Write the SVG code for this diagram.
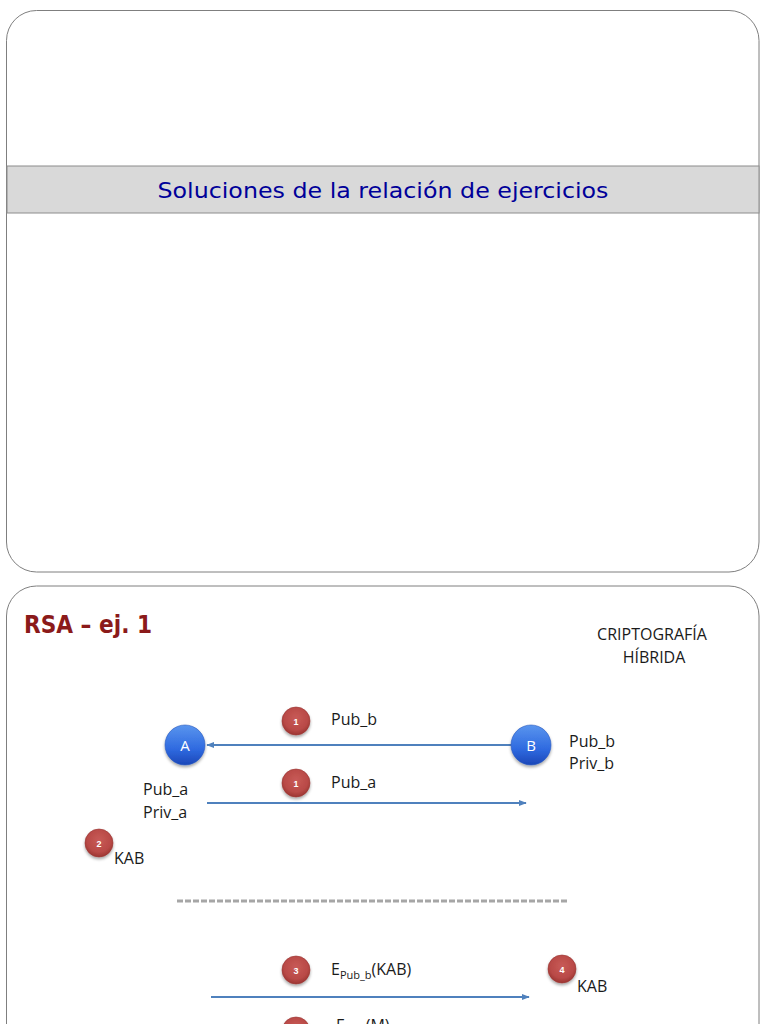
<svg xmlns="http://www.w3.org/2000/svg" width="768" height="1024" viewBox="0 0 768 1024">
  <defs>
    <style>
      .slide { fill: #ffffff; stroke: #7f7f7f; stroke-width: 1; }
      .lbl { font-family: "Open Sans", "Liberation Sans", sans-serif; font-size: 16px; fill: #1a1a1a; }
      .num { font-family: "Liberation Sans", sans-serif; font-size: 9px; font-weight: bold; fill: #ffffff; text-anchor: middle; }
      .conn { stroke: #4f81bd; stroke-width: 2; fill: none; }
      .badge { fill: url(#redGrad); stroke: #9a3633; stroke-width: 0.6; filter: url(#shadow); }
      .node { fill: url(#blueGrad); stroke: #2a5bc0; stroke-width: 0.6; filter: url(#shadow); }
      .nodeTxt { font-family: "Open Sans", "Liberation Sans", sans-serif; font-size: 15px; fill: #ffffff; text-anchor: middle; }
    </style>
    <radialGradient id="redGrad" cx="50%" cy="40%" r="60%">
      <stop offset="0" stop-color="#c85a57"/>
      <stop offset="0.7" stop-color="#b94a47"/>
      <stop offset="1" stop-color="#9c3532"/>
    </radialGradient>
    <linearGradient id="blueGrad" x1="0" y1="0" x2="0" y2="1">
      <stop offset="0" stop-color="#5a95ee"/>
      <stop offset="0.6" stop-color="#2f6ae0"/>
      <stop offset="1" stop-color="#1c47b8"/>
    </linearGradient>
    <filter id="shadow" x="-30%" y="-30%" width="160%" height="170%">
      <feDropShadow dx="0" dy="2" stdDeviation="1.5" flood-color="#000000" flood-opacity="0.35"/>
    </filter>
    <marker id="arrow" viewBox="0 0 10 10" refX="9" refY="5" markerWidth="4" markerHeight="4" orient="auto-start-reverse">
      <path d="M0,1 L10,5 L0,9 z" fill="#4f81bd"/>
    </marker>
  </defs>

  <rect width="768" height="1024" fill="#ffffff"/>

  <!-- Slide 1 -->
  <g id="slide1">
    <rect class="slide" x="6.5" y="10.5" width="752.5" height="561.5" rx="30" ry="30"/>
    <rect x="7" y="166" width="752" height="47" fill="#d9d9d9" stroke="#8c8c8c" stroke-width="1"/>
    <text x="383" y="198" text-anchor="middle" font-family="'DejaVu Sans', sans-serif" font-size="22" fill="#000099" textLength="451" lengthAdjust="spacingAndGlyphs">Soluciones de la relación de ejercicios</text>
  </g>

  <!-- Slide 2 -->
  <g id="slide2">
    <path class="slide" d="M6.5,1030 L6.5,616 A30,30 0 0 1 36.5,586 L729,586 A30,30 0 0 1 759,616 L759,1030"/>
    <text x="24" y="633" font-family="'DejaVu Sans', sans-serif" font-weight="bold" font-size="24" fill="#8b1a1a" textLength="128" lengthAdjust="spacingAndGlyphs">RSA – ej. 1</text>
    <text class="lbl" x="652" y="640" text-anchor="middle" font-size="15">CRIPTOGRAFÍA</text>
    <text class="lbl" x="654" y="663" text-anchor="middle" font-size="15">HÍBRIDA</text>
  </g>

  <!-- Connectors -->
  <g id="connectors">
    <line class="conn" x1="511" y1="745" x2="207" y2="745" marker-end="url(#arrow)"/>
    <line class="conn" x1="207" y1="803" x2="526" y2="803" marker-end="url(#arrow)"/>
    <line x1="177" y1="901" x2="568" y2="901" stroke="#a6a6a6" stroke-width="3" stroke-dasharray="6 2"/>
    <line class="conn" x1="211" y1="997" x2="529" y2="997" marker-end="url(#arrow)"/>
  </g>

  <!-- Nodes -->
  <g id="nodeA">
    <circle class="node" cx="185" cy="745" r="20"/>
    <text class="nodeTxt" x="185" y="751">A</text>
    <text class="lbl" x="143" y="795">Pub_a</text>
    <text class="lbl" x="143" y="818">Priv_a</text>
  </g>
  <g id="nodeB">
    <circle class="node" cx="531" cy="745" r="20"/>
    <text class="nodeTxt" x="531" y="751">B</text>
    <text class="lbl" x="569" y="747">Pub_b</text>
    <text class="lbl" x="569" y="769">Priv_b</text>
  </g>

  <g id="step1a">
    <circle class="badge" cx="296" cy="721" r="14"/>
    <text class="num" x="296" y="724.5">1</text>
    <text class="lbl" x="331" y="725">Pub_b</text>
  </g>
  <g id="step1b">
    <circle class="badge" cx="296" cy="783" r="14"/>
    <text class="num" x="296" y="786.5">1</text>
    <text class="lbl" x="331" y="788">Pub_a</text>
  </g>
  <g id="step2">
    <circle class="badge" cx="99" cy="843" r="14"/>
    <text class="num" x="99" y="846.5">2</text>
    <text class="lbl" x="114" y="864">KAB</text>
  </g>
  <g id="step3">
    <circle class="badge" cx="296" cy="970" r="14"/>
    <text class="num" x="296" y="973.5">3</text>
    <text class="lbl" x="331" y="975">E<tspan font-size="11" dy="4">Pub_b</tspan><tspan dy="-4">(KAB)</tspan></text>
  </g>
  <g id="step4">
    <circle class="badge" cx="562" cy="969" r="14"/>
    <text class="num" x="562" y="972.5">4</text>
    <text class="lbl" x="577" y="992">KAB</text>
  </g>
  <g id="step5">
    <circle class="badge" cx="296" cy="1031" r="14"/>
    <text class="lbl" x="336" y="1031">E<tspan font-size="11" dy="4">KAB</tspan><tspan dy="-4">(M)</tspan></text>
  </g>
</svg>
